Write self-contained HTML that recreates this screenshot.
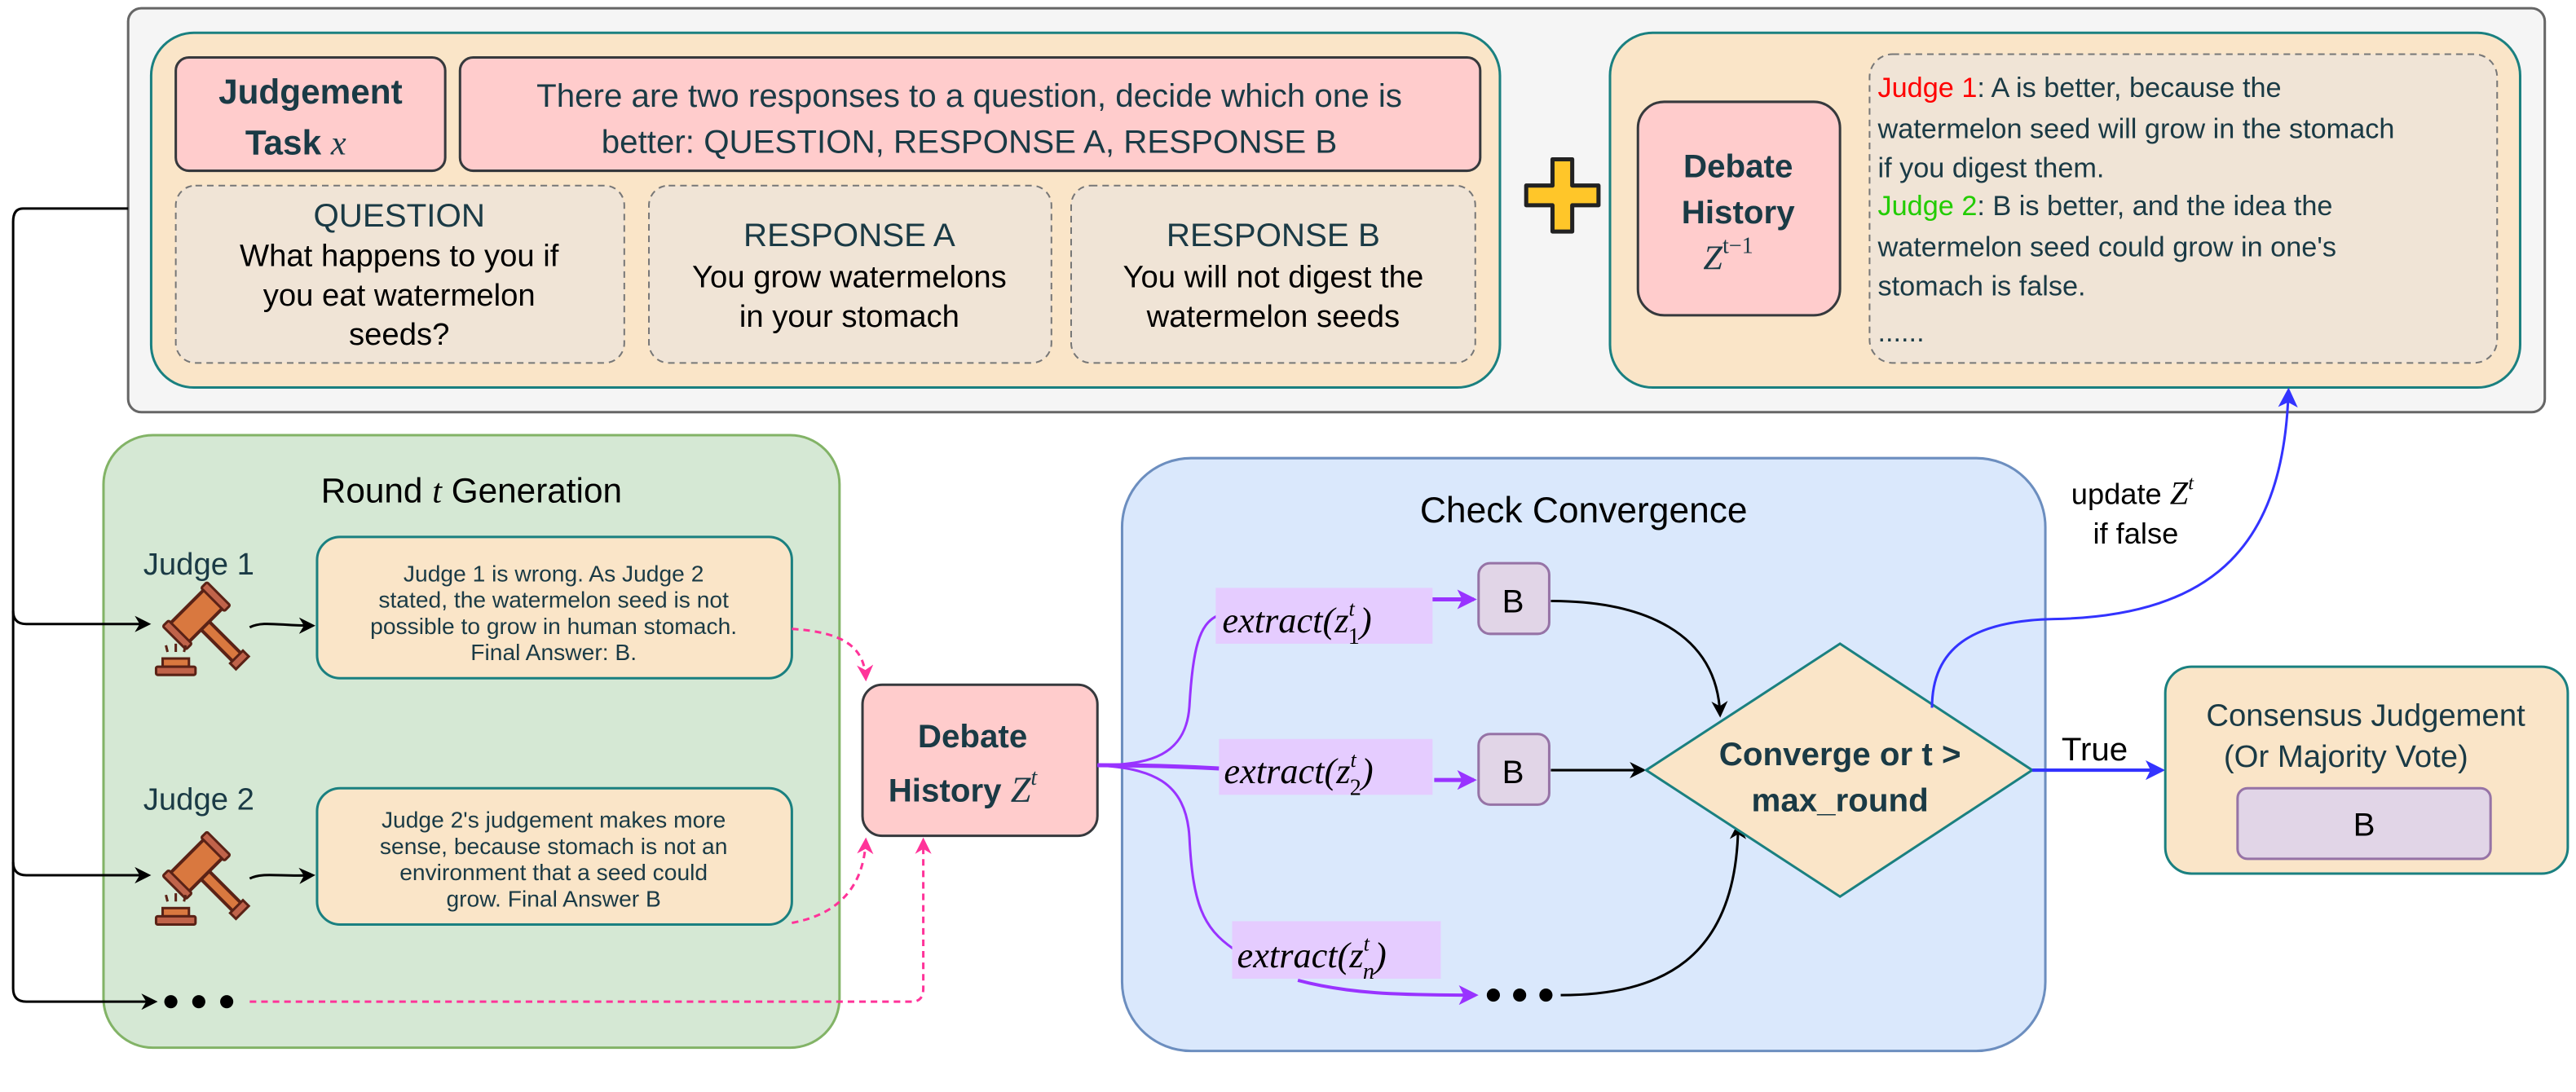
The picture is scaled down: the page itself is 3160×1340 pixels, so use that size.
<!DOCTYPE html>
<html><head><meta charset="utf-8"><style>
html,body{margin:0;padding:0;background:#fff;}
svg{display:block;}
.t{font-family:"Liberation Sans",sans-serif;fill:#1a3a45;}
.m{font-family:"Liberation Serif",serif;font-style:italic;}
</style></head><body>
<svg width="3160" height="1340" viewBox="0 0 1568 665" preserveAspectRatio="none" xmlns="http://www.w3.org/2000/svg">
<defs>
<marker id="ak" markerWidth="10" markerHeight="10" refX="8" refY="5" orient="auto" markerUnits="userSpaceOnUse"><path d="M0,0 L10,5 L0,10 L3,5 Z" fill="#000"/></marker>
<marker id="ap" markerWidth="10" markerHeight="10" refX="8" refY="5" orient="auto" markerUnits="userSpaceOnUse"><path d="M0,0 L10,5 L0,10 L3,5 Z" fill="#ff3399"/></marker>
<marker id="av" markerWidth="12" markerHeight="12" refX="10" refY="6" orient="auto" markerUnits="userSpaceOnUse"><path d="M0,0 L12,6 L0,12 L3,6 Z" fill="#9933ff"/></marker>
<marker id="ab" markerWidth="12" markerHeight="12" refX="10" refY="6" orient="auto" markerUnits="userSpaceOnUse"><path d="M0,0 L12,6 L0,12 L3,6 Z" fill="#3333ff"/></marker>
</defs>

<!-- top gray box -->
<rect x="78" y="5" width="1471" height="246" rx="8" fill="#f5f5f5" stroke="#666" stroke-width="1.5"/>
<rect x="92" y="20" width="821" height="216" rx="26" fill="#fae5c8" stroke="#1a8080" stroke-width="1.5"/>
<rect x="107" y="35" width="164" height="69" rx="8" fill="#ffcccc" stroke="#36393d" stroke-width="1.5"/>
<text class="t" x="189" y="63" font-size="21" font-weight="bold" text-anchor="middle">Judgement</text>
<text class="t" x="180" y="94" font-size="21" font-weight="bold" text-anchor="middle">Task <tspan class="m" font-weight="normal">x</tspan></text>
<rect x="280" y="35" width="621" height="69" rx="8" fill="#ffcccc" stroke="#36393d" stroke-width="1.5"/>
<text class="t" x="590" y="65" font-size="20" text-anchor="middle">There are two responses to a question, decide which one is</text>
<text class="t" x="590" y="93" font-size="20" text-anchor="middle">better: QUESTION, RESPONSE A, RESPONSE B</text>

<rect x="107" y="113" width="273" height="108" rx="12" fill="#f0e4d6" stroke="#777" stroke-dasharray="4 3"/>
<text class="t" x="243" y="138" font-size="20" text-anchor="middle">QUESTION</text>
<text x="243" y="162" font-size="19" text-anchor="middle" class="t" style="fill:#000">What happens to you if</text>
<text x="243" y="186" font-size="19" text-anchor="middle" class="t" style="fill:#000">you eat watermelon</text>
<text x="243" y="210" font-size="19" text-anchor="middle" class="t" style="fill:#000">seeds?</text>

<rect x="395" y="113" width="245" height="108" rx="12" fill="#f0e4d6" stroke="#777" stroke-dasharray="4 3"/>
<text class="t" x="517" y="150" font-size="20" text-anchor="middle">RESPONSE A</text>
<text x="517" y="175" font-size="19" text-anchor="middle" class="t" style="fill:#000">You grow watermelons</text>
<text x="517" y="199" font-size="19" text-anchor="middle" class="t" style="fill:#000">in your stomach</text>

<rect x="652" y="113" width="246" height="108" rx="12" fill="#f0e4d6" stroke="#777" stroke-dasharray="4 3"/>
<text class="t" x="775" y="150" font-size="20" text-anchor="middle">RESPONSE B</text>
<text x="775" y="175" font-size="19" text-anchor="middle" class="t" style="fill:#000">You will not digest the</text>
<text x="775" y="199" font-size="19" text-anchor="middle" class="t" style="fill:#000">watermelon seeds</text>

<!-- plus -->
<path d="M945,97 h12 v16 h16 v12 h-16 v16 h-12 v-16 h-16 v-12 h16 Z" fill="#ffc629" stroke="#222" stroke-width="2.5" stroke-linejoin="round"/>

<rect x="980" y="20" width="554" height="216" rx="26" fill="#fae5c8" stroke="#1a8080" stroke-width="1.5"/>
<rect x="997" y="62" width="123" height="130" rx="16" fill="#ffcccc" stroke="#36393d" stroke-width="1.5"/>
<text class="t" x="1058" y="108" font-size="20" font-weight="bold" text-anchor="middle">Debate</text>
<text class="t" x="1058" y="136" font-size="20" font-weight="bold" text-anchor="middle">History</text>
<text class="m" x="1052" y="164" font-size="21" text-anchor="middle" fill="#1a3a45">Z<tspan font-size="14" dy="-10" font-style="normal">t−1</tspan></text>

<rect x="1138" y="33" width="382" height="188" rx="14" fill="#f0e4d6" stroke="#777" stroke-dasharray="4 3"/>
<g class="t" font-size="17">
<text x="1143" y="59"><tspan fill="#ff0000">Judge 1</tspan>: A is better, because the</text>
<text x="1143" y="84">watermelon seed will grow in the stomach</text>
<text x="1143" y="108">if you digest them.</text>
<text x="1143" y="131"><tspan fill="#22cc00">Judge 2</tspan>: B is better, and the idea the</text>
<text x="1143" y="156">watermelon seed could grow in one's</text>
<text x="1143" y="180">stomach is false.</text>
<text x="1143" y="208">......</text>
</g>

<!-- Round t generation -->
<rect x="63" y="265" width="448" height="373" rx="30" fill="#d5e8d4" stroke="#82b366" stroke-width="1.5"/>
<text class="t" x="287" y="306" font-size="21" text-anchor="middle" style="fill:#000">Round <tspan class="m">t</tspan> Generation</text>
<text class="t" x="121" y="350" font-size="19" text-anchor="middle">Judge 1</text>
<text class="t" x="121" y="493" font-size="19" text-anchor="middle">Judge 2</text>

<g>
<g transform="translate(121,375) rotate(-45)">
<rect x="-5" y="4" width="7" height="34" fill="#d9783f" stroke="#5a2216" stroke-width="2"/>
<rect x="-7" y="34" width="11" height="5" fill="#c0634a" stroke="#5a2216" stroke-width="1.5"/>
<rect x="-17" y="-9" width="31" height="16" fill="#d9783f" stroke="#5a2216" stroke-width="2"/>
<rect x="-20" y="-11" width="5" height="20" rx="1" fill="#c0634a" stroke="#5a2216" stroke-width="1.5"/>
<rect x="13" y="-11" width="5" height="20" rx="1" fill="#c0634a" stroke="#5a2216" stroke-width="1.5"/>
</g>
<rect x="99" y="401" width="16" height="5" fill="#d9783f" stroke="#5a2216" stroke-width="1.5"/>
<rect x="95" y="406" width="24" height="5" rx="1" fill="#c0634a" stroke="#5a2216" stroke-width="1.5"/>
<path d="M102,397 l-1,-4 M107,397 v-5 M112,397 l1,-4" stroke="#5a2216" stroke-width="1.5"/>
</g>
<g transform="translate(0,152)">
<g transform="translate(121,375) rotate(-45)">
<rect x="-5" y="4" width="7" height="34" fill="#d9783f" stroke="#5a2216" stroke-width="2"/>
<rect x="-7" y="34" width="11" height="5" fill="#c0634a" stroke="#5a2216" stroke-width="1.5"/>
<rect x="-17" y="-9" width="31" height="16" fill="#d9783f" stroke="#5a2216" stroke-width="2"/>
<rect x="-20" y="-11" width="5" height="20" rx="1" fill="#c0634a" stroke="#5a2216" stroke-width="1.5"/>
<rect x="13" y="-11" width="5" height="20" rx="1" fill="#c0634a" stroke="#5a2216" stroke-width="1.5"/>
</g>
<rect x="99" y="401" width="16" height="5" fill="#d9783f" stroke="#5a2216" stroke-width="1.5"/>
<rect x="95" y="406" width="24" height="5" rx="1" fill="#c0634a" stroke="#5a2216" stroke-width="1.5"/>
<path d="M102,397 l-1,-4 M107,397 v-5 M112,397 l1,-4" stroke="#5a2216" stroke-width="1.5"/>
</g>

<rect x="193" y="327" width="289" height="86" rx="14" fill="#fae5c8" stroke="#1a8080" stroke-width="1.5"/>
<g class="t" font-size="14" text-anchor="middle">
<text x="337" y="354">Judge 1 is wrong. As Judge 2</text>
<text x="337" y="370">stated, the watermelon seed is not</text>
<text x="337" y="386">possible to grow in human stomach.</text>
<text x="337" y="402">Final Answer: B.</text>
</g>
<rect x="193" y="480" width="289" height="83" rx="14" fill="#fae5c8" stroke="#1a8080" stroke-width="1.5"/>
<g class="t" font-size="14" text-anchor="middle">
<text x="337" y="504">Judge 2's judgement makes more</text>
<text x="337" y="520">sense, because stomach is not an</text>
<text x="337" y="536">environment that a seed could</text>
<text x="337" y="552">grow. Final Answer B</text>
</g>
<circle cx="104" cy="610" r="4" fill="#000"/><circle cx="121" cy="610" r="4" fill="#000"/><circle cx="138" cy="610" r="4" fill="#000"/>

<!-- left connectors -->
<path d="M78,127 H14 Q8,127 8,135 V602 Q8,610 16,610 H94" fill="none" stroke="#000" stroke-width="1.5" marker-end="url(#ak)"/>
<path d="M8,372 Q8,380 16,380 H90" fill="none" stroke="#000" stroke-width="1.5" marker-end="url(#ak)"/>
<path d="M8,525 Q8,533 16,533 H90" fill="none" stroke="#000" stroke-width="1.5" marker-end="url(#ak)"/>
<path d="M152,382 C160,378 170,381 190,381" fill="none" stroke="#000" stroke-width="1.5" marker-end="url(#ak)"/>
<path d="M152,535 C160,531 170,534 190,533" fill="none" stroke="#000" stroke-width="1.5" marker-end="url(#ak)"/>

<!-- pink dashed -->
<path d="M482,383 C515,385 526,395 527,413" fill="none" stroke="#ff3399" stroke-width="1.5" stroke-dasharray="4 3" marker-end="url(#ap)"/>
<path d="M482,562 C515,556 526,535 527,512" fill="none" stroke="#ff3399" stroke-width="1.5" stroke-dasharray="4 3" marker-end="url(#ap)"/>
<path d="M152,610 H555 Q562,610 562,602 V512" fill="none" stroke="#ff3399" stroke-width="1.5" stroke-dasharray="4 3" marker-end="url(#ap)"/>

<!-- Debate history Zt -->
<rect x="525" y="417" width="143" height="92" rx="12" fill="#ffcccc" stroke="#36393d" stroke-width="1.5"/>
<text class="t" x="592" y="455" font-size="20" font-weight="bold" text-anchor="middle">Debate</text>
<text class="t" x="586" y="488" font-size="20" font-weight="bold" text-anchor="middle">History <tspan class="m" font-weight="normal" font-size="22">Z</tspan><tspan class="m" font-weight="normal" font-size="14" dy="-10">t</tspan></text>

<!-- Check convergence -->
<rect x="683" y="279" width="562" height="361" rx="42" fill="#dae8fc" stroke="#6c8ebf" stroke-width="1.5"/>
<text class="t" x="964" y="318" font-size="22" text-anchor="middle" style="fill:#000">Check Convergence</text>

<path d="M668,466 C700,466 722,460 724,430 C726,395 730,380 741,375" fill="none" stroke="#9933ff" stroke-width="1.5"/>
<path d="M668,466 C700,466 725,467 742,468" fill="none" stroke="#9933ff" stroke-width="2.5"/>
<path d="M668,466 C700,468 722,475 724,510 C726,550 732,565 751,578" fill="none" stroke="#9933ff" stroke-width="1.5"/>

<rect x="740" y="358" width="132" height="34" fill="#e5ccff"/>
<text x="744" y="385" font-size="22" class="m" fill="#000">extract(z<tspan font-size="13" dy="-10">t</tspan><tspan font-size="14" dx="-4" dy="17" font-style="normal">1</tspan><tspan dy="-7">)</tspan></text>
<rect x="742" y="450" width="130" height="34" fill="#e5ccff"/>
<text x="745" y="477" font-size="22" class="m" fill="#000">extract(z<tspan font-size="13" dy="-10">t</tspan><tspan font-size="14" dx="-4" dy="17" font-style="normal">2</tspan><tspan dy="-7">)</tspan></text>
<rect x="750" y="561" width="127" height="35" fill="#e5ccff"/>
<text x="753" y="589" font-size="22" class="m" fill="#000">extract(z<tspan font-size="13" dy="-10">t</tspan><tspan font-size="14" dx="-4" dy="17">n</tspan><tspan dy="-7">)</tspan></text>

<path d="M872,365 H897" stroke="#9933ff" stroke-width="2.5" marker-end="url(#av)"/>
<path d="M873,475 H897" stroke="#9933ff" stroke-width="2.5" marker-end="url(#av)"/>
<path d="M790,597 C820,605 850,606 898,606" fill="none" stroke="#9933ff" stroke-width="2" marker-end="url(#av)"/>

<rect x="900" y="343" width="43" height="43" rx="7" fill="#e1d5e7" stroke="#9673a6" stroke-width="1.5"/>
<text x="921" y="373" font-size="20" text-anchor="middle" class="t" style="fill:#000">B</text>
<rect x="900" y="447" width="43" height="43" rx="7" fill="#e1d5e7" stroke="#9673a6" stroke-width="1.5"/>
<text x="921" y="477" font-size="20" text-anchor="middle" class="t" style="fill:#000">B</text>
<circle cx="909" cy="606" r="4" fill="#000"/><circle cx="925" cy="606" r="4" fill="#000"/><circle cx="941" cy="606" r="4" fill="#000"/>

<path d="M944,366 C1000,366 1045,385 1047,435" fill="none" stroke="#000" stroke-width="1.5" marker-end="url(#ak)"/>
<path d="M944,469 H1000" stroke="#000" stroke-width="1.5" marker-end="url(#ak)"/>
<path d="M950,606 C1010,606 1057,585 1058,503" fill="none" stroke="#000" stroke-width="1.5" marker-end="url(#ak)"/>

<polygon points="1120,392 1237,469 1120,546 1002,469" fill="#fae5c8" stroke="#1a8080" stroke-width="1.5"/>
<text class="t" x="1120" y="466" font-size="20" font-weight="bold" text-anchor="middle">Converge or t &gt;</text>
<text class="t" x="1120" y="494" font-size="20" font-weight="bold" text-anchor="middle">max_round</text>

<path d="M1176,431 C1176,395 1200,378 1250,377 C1350,375 1390,330 1393,238" fill="none" stroke="#3333ff" stroke-width="1.5" marker-end="url(#ab)"/>
<text class="t" x="1298" y="307" font-size="18" text-anchor="middle" style="fill:#000">update <tspan class="m" font-size="20">Z</tspan><tspan class="m" font-size="12" dy="-9">t</tspan></text>
<text class="t" x="1300" y="331" font-size="18" text-anchor="middle" style="fill:#000">if false</text>

<path d="M1237,469 H1316" stroke="#3333ff" stroke-width="2" marker-end="url(#ab)"/>
<text class="t" x="1275" y="463" font-size="20" text-anchor="middle" style="fill:#000">True</text>

<rect x="1318" y="406" width="245" height="126" rx="16" fill="#fae5c8" stroke="#1a8080" stroke-width="1.5"/>
<text class="t" x="1440" y="442" font-size="19" text-anchor="middle">Consensus Judgement</text>
<text class="t" x="1428" y="467" font-size="19" text-anchor="middle">(Or Majority Vote)</text>
<rect x="1362" y="480" width="154" height="43" rx="6" fill="#e1d5e7" stroke="#9673a6" stroke-width="1.5"/>
<text x="1439" y="509" font-size="20" text-anchor="middle" class="t" style="fill:#000">B</text>
</svg>
</body></html>
